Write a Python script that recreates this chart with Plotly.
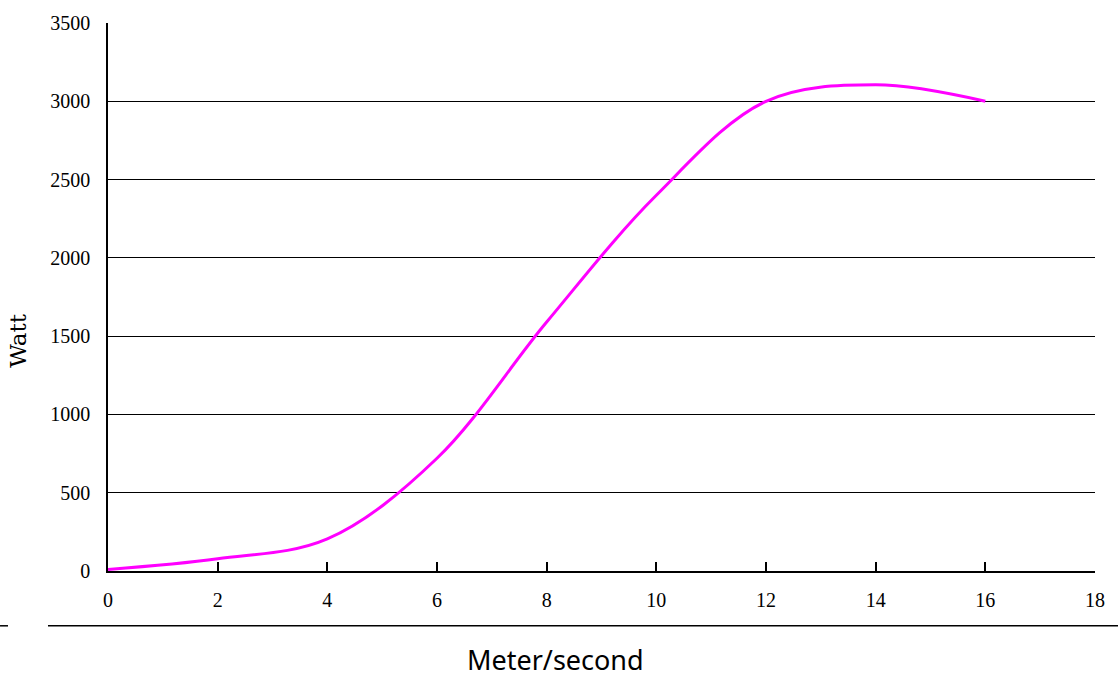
import plotly.graph_objects as go

speed = [0, 2, 4, 6, 8, 10, 12, 14, 16]
power = [10, 78, 205, 720, 1590, 2400, 3000, 3105, 3000]

x_ticks = [0, 2, 4, 6, 8, 10, 12, 14, 16, 18]
y_ticks = [0, 500, 1000, 1500, 2000, 2500, 3000, 3500]

fig = go.Figure()
fig.add_trace(go.Scatter(
    x=speed, y=power, mode="lines",
    line=dict(color="#FF00FF", width=3, shape="spline", smoothing=1.0),
    showlegend=False, hoverinfo="x+y",
))

serif = "Liberation Serif"
fig.update_layout(
    width=1118, height=677,
    margin=dict(l=108, r=23, t=21, b=106),
    paper_bgcolor="white", plot_bgcolor="white",
    font=dict(family=serif, size=20, color="black"),
    xaxis=dict(
        range=[0, 18], tickvals=x_ticks, ticktext=[str(v) for v in x_ticks],
        showgrid=False, zeroline=False,
        showline=True, linecolor="black", linewidth=1.5,
        ticks="inside", ticklen=9, tickcolor="black", tickwidth=1.5,
        ticklabelstandoff=10,
        tickfont=dict(family=serif, size=20, color="black"),
    ),
    yaxis=dict(
        range=[0, 3500], tickvals=y_ticks, ticktext=[str(v) for v in y_ticks],
        showgrid=True, gridcolor="black", gridwidth=1.2,
        zeroline=False,
        showline=True, linecolor="black", linewidth=1.5,
        ticks="", ticklabelstandoff=12,
        tickfont=dict(family=serif, size=20, color="black"),
    ),
    shapes=[
        dict(type="line", xref="paper", yref="paper", x0=-0.1094, x1=-0.1013, y0=-0.1, y1=-0.1,
             line=dict(color="black", width=1.5)),
        dict(type="line", xref="paper", yref="paper", x0=-0.0608, x1=1.0233, y0=-0.1, y1=-0.1,
             line=dict(color="black", width=1.5)),
    ],
    annotations=[
        dict(text="Meter/second", xref="paper", yref="paper", x=(555 - 108) / 987, y=-(660 - 571) / 550,
             showarrow=False, xanchor="center", yanchor="middle",
             font=dict(family="Noto Sans", size=27, color="black")),
        dict(text="Watt", xref="paper", yref="paper", x=-(108 - 18) / 987, y=(571 - 340) / 550,
             showarrow=False, xanchor="center", yanchor="middle", textangle=-90,
             font=dict(family="DejaVu Serif", size=23, color="black")),
    ],
)

fig.write_html("out.html", config={"displayModeBar": False},
               post_script="document.body.style.margin='0';document.body.style.overflow='hidden';")
